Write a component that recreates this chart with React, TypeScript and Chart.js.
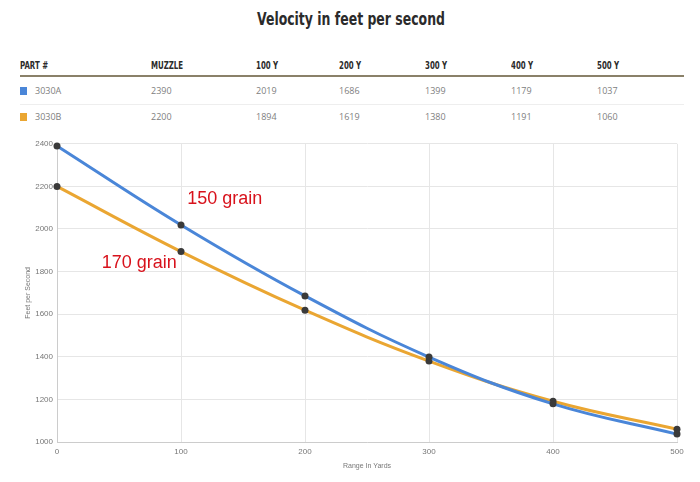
import React, { useEffect, useRef } from "react";
import { Chart, registerables } from "chart.js";

Chart.register(...registerables);

const ranges = [0, 100, 200, 300, 400, 500];
const headers = ["PART #", "MUZZLE", "100 Y", "200 Y", "300 Y", "400 Y", "500 Y"];
const partNames = ["3030A", "3030B"];
const velocityA = [2390, 2019, 1686, 1399, 1179, 1037];
const velocityB = [2200, 1894, 1619, 1380, 1191, 1060];
const seriesColors = ["#4a86d8", "#eaa632"];
const grainLabels = [
  { text: "150 grain", x: 105, y: 2140 },
  { text: "170 grain", x: 36, y: 1840 },
];

const colX = [20, 151, 256, 339, 425, 511, 597];
const headFont = "'DejaVu Sans Condensed', sans-serif";
const bodyFont = "'Open Sans', 'Liberation Sans', sans-serif";

const grainPlugin = {
  id: "grainLabels",
  afterDatasetsDraw(chart: any) {
    const { ctx, scales } = chart;
    ctx.save();
    ctx.fillStyle = "#d8121c";
    ctx.font = "18px 'Liberation Sans', Arial, sans-serif";
    ctx.textBaseline = "middle";
    ctx.textAlign = "left";
    for (const g of grainLabels) {
      ctx.fillText(g.text, scales.x.getPixelForValue(g.x), scales.y.getPixelForValue(g.y));
    }
    ctx.restore();
  },
};

export default function App() {
  const canvasRef = useRef<HTMLCanvasElement>(null);

  useEffect(() => {
    const tickFont = { family: "'Liberation Sans', Arial, sans-serif", size: 8 };
    const chart = new Chart(canvasRef.current!, {
      type: "line",
      data: {
        datasets: [velocityA, velocityB].map((vals, i) => ({
          label: partNames[i],
          data: ranges.map((r, j) => ({ x: r, y: vals[j] })),
          borderColor: seriesColors[i],
          borderWidth: 3,
          tension: 0.4,
          pointRadius: 3.5,
          pointBackgroundColor: "#3a3a3a",
          pointBorderWidth: 0,
          fill: false,
          clip: false,
        })),
      },
      options: {
        animation: false,
        responsive: false,
        layout: { padding: { top: 8, right: 23, left: 20, bottom: 8 } },
        plugins: { legend: { display: false }, tooltip: { enabled: false } },
        scales: {
          x: {
            type: "linear",
            min: 0,
            max: 500,
            ticks: { stepSize: 100, color: "#777", font: tickFont, padding: 5, callback: (v: any) => String(v) },
            grid: { color: "#e6e6e6", drawTicks: false },
            border: { color: "#cccccc" },
            title: { display: true, text: "Range In Yards", color: "#777", font: { ...tickFont, size: 7 }, padding: { top: 6 } },
            afterFit: (s: any) => { s.height = 32; },
          },
          y: {
            min: 1000,
            max: 2400,
            ticks: { stepSize: 200, color: "#777", font: tickFont, padding: 4, callback: (v: any) => String(v) },
            grid: { color: "#e6e6e6", drawTicks: false },
            border: { color: "#cccccc" },
            title: { display: true, text: "Feet per Second", color: "#777", font: { ...tickFont, size: 7 } },
            afterFit: (s: any) => { s.width = 37; },
          },
        },
      },
      plugins: [grainPlugin],
    });
    return () => chart.destroy();
  }, []);

  const cell = (x: number, y: number, content: React.ReactNode, style: React.CSSProperties) => (
    <div style={{ position: "absolute", left: x, top: y, whiteSpace: "nowrap", ...style }}>{content}</div>
  );

  const headStyle: React.CSSProperties = {
    fontFamily: headFont, fontWeight: "bold", fontSize: 10, color: "#2b2b2b", lineHeight: "12px",
    transform: "scaleX(0.78)", transformOrigin: "left center",
  };
  const bodyStyle: React.CSSProperties = { fontFamily: bodyFont, fontSize: 9, color: "#808080", lineHeight: "12px" };
  const rows = [velocityA, velocityB];

  return (
    <div style={{ position: "absolute", left: 0, top: 0, width: 700, height: 482, background: "#fff", overflow: "hidden" }}>
      <div style={{ position: "absolute", left: 0, top: 8, width: 702, textAlign: "center", fontFamily: headFont, fontWeight: "bold", fontSize: 18, color: "#2b2b2b", lineHeight: "22px", transform: "scaleX(0.77)", transformOrigin: "351px center" }}>
        Velocity in feet per second
      </div>
      {headers.map((h, i) => cell(colX[i], 60, h, headStyle))}
      <div style={{ position: "absolute", left: 20, top: 75, width: 664, height: 2, background: "#8a8169" }} />
      <div style={{ position: "absolute", left: 20, top: 104, width: 664, height: 1, background: "#eeeeee" }} />
      {rows.map((vals, r) => {
        const y = r === 0 ? 85 : 111;
        return (
          <React.Fragment key={r}>
            <div style={{ position: "absolute", left: 20, top: y + 2, width: 7, height: 8, background: seriesColors[r] }} />
            {cell(35, y, partNames[r], bodyStyle)}
            {vals.map((v, j) => (
              <React.Fragment key={j}>{cell(colX[j + 1], y, String(v), bodyStyle)}</React.Fragment>
            ))}
          </React.Fragment>
        );
      })}
      <canvas ref={canvasRef} width={700} height={347} style={{ position: "absolute", left: 0, top: 135, width: 700, height: 347 }} />
    </div>
  );
}
